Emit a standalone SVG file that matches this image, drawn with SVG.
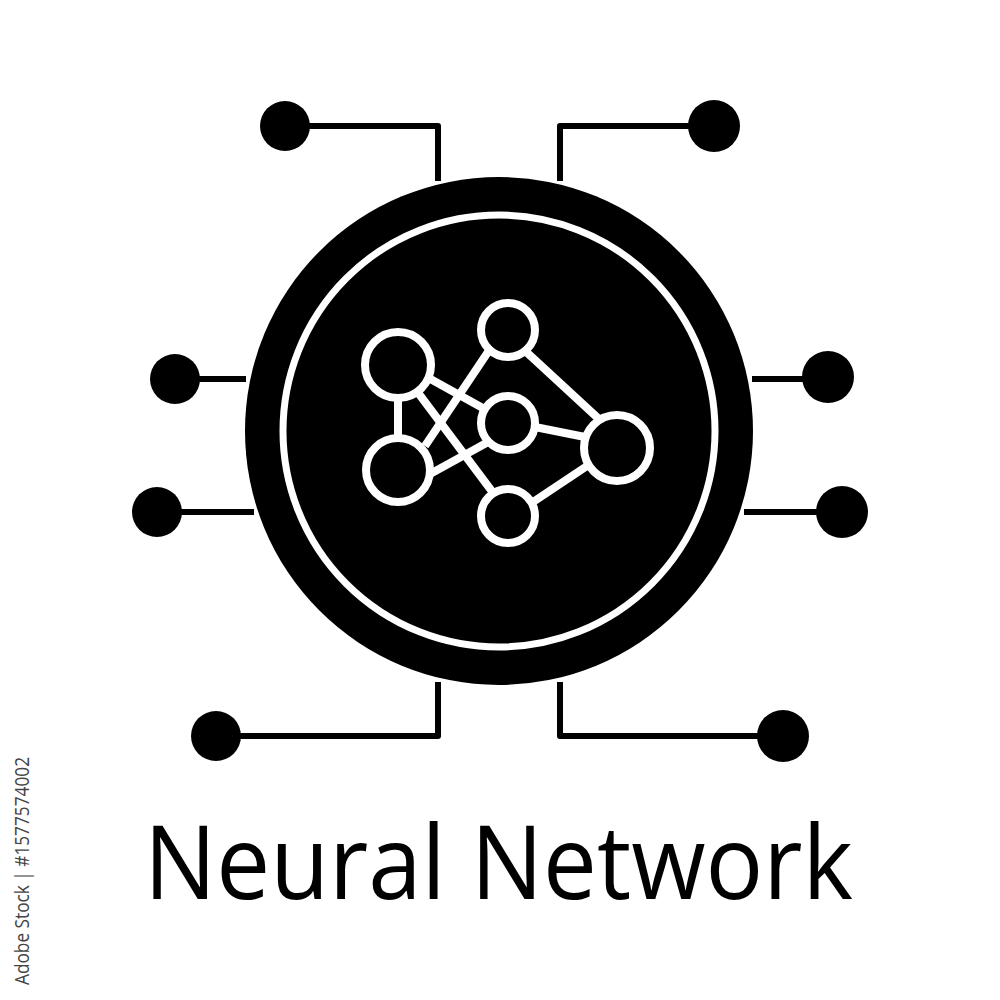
<svg xmlns="http://www.w3.org/2000/svg" width="1000" height="1000" viewBox="0 0 1000 1000">
<style>
.pin{fill:none;stroke:#000;stroke-width:6;stroke-linejoin:round}
.dot{fill:#000}
.link{stroke:#fff;stroke-width:8;fill:none}
.ring{fill:#000;stroke:#fff;stroke-width:8}
.title{font-family:"Open Sans",sans-serif;font-size:102px;fill:#000}
.credit{font-family:"Open Sans",sans-serif;font-size:20px;fill:#444}
</style>
<rect width="1000" height="1000" fill="#fff"/>
<g id="connectors">
<path class="pin" d="M285 126H438V181"/>
<path class="pin" d="M714 126H560V181"/>
<path class="pin" d="M175 379H246"/>
<path class="pin" d="M157 512H254"/>
<path class="pin" d="M828 379H752"/>
<path class="pin" d="M842 512H744"/>
<path class="pin" d="M216 736H438V682"/>
<path class="pin" d="M783 736H560V682"/>
</g>
<g id="pin-top-left"><circle class="dot" cx="285" cy="126" r="25"/></g>
<g id="pin-top-right"><circle class="dot" cx="714" cy="126" r="26"/></g>
<g id="pin-left-upper"><circle class="dot" cx="175" cy="379" r="25"/></g>
<g id="pin-left-lower"><circle class="dot" cx="157" cy="512" r="25"/></g>
<g id="pin-right-upper"><circle class="dot" cx="828" cy="377" r="26"/></g>
<g id="pin-right-lower"><circle class="dot" cx="842" cy="512" r="26"/></g>
<g id="pin-bottom-left"><circle class="dot" cx="216" cy="736" r="25"/></g>
<g id="pin-bottom-right"><circle class="dot" cx="783" cy="736" r="26"/></g>
<g id="chip">
<circle cx="499" cy="431" r="254" fill="#000"/>
<circle cx="499" cy="431" r="216" fill="none" stroke="#fff" stroke-width="7"/>
</g>
<g id="network-links">
<path class="link" d="M398 390V445"/>
<path class="link" d="M425 376L490 412"/>
<path class="link" d="M416 390L494 494"/>
<path class="link" d="M492 346L425 446"/>
<path class="link" d="M490 441L430 474"/>
<path class="link" d="M522 348L600 420"/>
<path class="link" d="M530 426L590 438"/>
<path class="link" d="M530 504L590 464"/>
</g>
<g id="node-a"><circle class="ring" cx="398" cy="365" r="33"/></g>
<g id="node-b"><circle class="ring" cx="398" cy="470" r="32"/></g>
<g id="node-c"><circle class="ring" cx="508" cy="330" r="27"/></g>
<g id="node-d"><circle class="ring" cx="508" cy="423" r="27"/></g>
<g id="node-e"><circle class="ring" cx="508" cy="516" r="27"/></g>
<g id="node-f"><circle class="ring" cx="617" cy="448" r="33"/></g>
<text class="title" x="144" y="899" textLength="709" lengthAdjust="spacingAndGlyphs">Neural Network</text>
<text class="credit" transform="translate(29 985) rotate(-90)" textLength="228" lengthAdjust="spacingAndGlyphs">Adobe Stock | #1577574002</text>
</svg>
